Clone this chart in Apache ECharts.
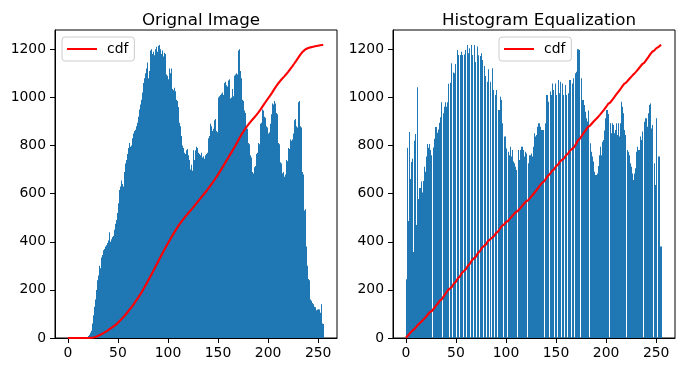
<!DOCTYPE html>
<html><head><meta charset="utf-8">
<script src="https://cdn.jsdelivr.net/npm/echarts@6/dist/echarts.min.js"></script>
<style>html,body{margin:0;padding:0;background:#fff}#c{width:685px;height:372px}</style>
</head><body><div id="c"></div>
<script>
const histOriginal = [
0,0,0,0,0,0,0,0,0,0,
0,0,0,0,0,0,0,1,2,4,
8,14,22,30,60,95,130,160,200,240,
260,300,290,335,345,365,370,380,385,395,
405,440,400,410,420,425,450,475,490,520,
560,615,630,655,640,630,690,725,740,765,
790,810,795,800,830,850,860,865,880,895,
920,950,970,990,1020,1060,1080,1100,1120,1145,
1080,1110,1195,1200,1180,1190,1175,1200,1210,1190,
1215,1218,1200,1180,1195,1170,1185,1180,1095,1090,
1075,1120,1100,1120,1035,1030,1040,1025,990,985,
960,895,880,840,800,790,770,765,780,785,
760,740,700,720,695,780,740,780,795,790,
770,765,760,770,750,755,745,760,765,770,
830,840,890,880,860,870,905,910,860,855,
1000,1005,1010,1015,1020,1010,1060,1065,1050,1045,
1070,1075,995,1000,1035,1005,1090,1095,1100,1095,
1195,1200,1110,1080,990,985,945,935,880,870,
810,805,760,750,690,684,710,715,765,770,
810,805,890,895,950,945,920,915,880,875,
850,855,890,930,975,970,985,975,935,930,
810,805,730,725,685,690,670,680,740,735,
790,785,825,820,825,850,905,910,880,875,
980,985,880,875,690,680,530,535,380,300,
245,240,160,155,145,140,130,128,115,118,
120,118,105,140,60,58];

const histEqualized = [
244,791,486,856,661,731,745,357,820,848,
470,1042,578,623,623,650,605,652,712,691,
754,806,791,806,781,760,0,792,828,877,
877,853,867,895,917,980,0,934,961,980,
961,980,1057,0,1061,1142,0,1103,1100,1139,
0,1197,1176,0,1176,1190,1176,0,1178,1197,
0,1218,1183,1204,0,1218,1176,0,1218,1147,
0,1211,1175,0,1172,1183,1155,0,1130,1089,
0,1065,1117,0,1065,0,1121,1031,0,1010,
1031,0,948,948,1003,989,892,0,837,837,
788,0,774,760,795,754,781,733,726,712,
698,0,781,740,781,795,795,781,754,774,
767,0,726,760,760,767,754,795,851,837,
844,878,892,892,878,864,864,864,0,892,
1010,1010,982,0,1024,1010,1058,1031,0,1058,
1010,0,1072,1017,1065,0,1058,1010,0,1051,
1010,0,1017,1072,1072,0,1058,1079,0,1100,
1107,1200,1200,1197,0,1079,989,989,968,940,
913,900,945,0,809,774,754,733,691,677,
677,684,715,760,795,760,816,823,862,913,
948,948,931,0,892,851,892,885,851,864,
892,844,892,837,892,982,961,934,864,844,
0,781,774,760,726,712,684,657,684,705,
774,795,781,781,837,823,858,0,899,913,
913,878,934,968,975,871,885,0,726,636,
913,0,754,754,380,380];

const xTicks = [0, 50, 100, 150, 200, 250];
const yTicks = [0, 200, 400, 600, 800, 1000, 1200];
const titles = ['Orignal Image', 'Histogram Equalization'];
const legendLabel = 'cdf';

function cdfNormalized(h) {
  const out = []; let s = 0;
  for (const v of h) { s += v; out.push(s); }
  const m = Math.max(...h);
  return out.map(v => v * m / s);
}
const FONT = 'DejaVu Sans';
const grids = [{left: 55, top: 30, width: 282, height: 308}, {left: 393, top: 30, width: 282, height: 308}];
const hists = [histOriginal, histEqualized];

const option = {
  animation: false,
  backgroundColor: '#fff',
  title: titles.map((t, k) => ({
    text: t, left: grids[k].left + grids[k].width / 2, top: 7, textAlign: 'center',
    textStyle: {fontFamily: FONT, fontSize: 16.7, fontWeight: 'normal', color: '#000'}
  })),
  legend: [
    {left: 62, top: 37},
    {left: 499, top: 37}
  ].map(p => Object.assign({
    data: [{name: legendLabel, icon: 'path://M0,0 L30,0 L30,2 L0,2 Z'}],
    orient: 'vertical', itemWidth: 30, itemHeight: 15,
    padding: [5, 6, 5, 5], borderColor: '#cccccc', borderWidth: 1, borderRadius: 3,
    backgroundColor: 'rgba(255,255,255,0.8)', selectedMode: false,
    textStyle: {fontFamily: FONT, fontSize: 13.9, color: '#000', padding: [0, 0, 0, 5]}
  }, p)),
  grid: grids.map(g => Object.assign({show: true, borderColor: '#000', borderWidth: 1, backgroundColor: 'transparent'}, g)),
  xAxis: grids.map((g, k) => ({
    type: 'value', gridIndex: k, min: -12.8, max: 268.8,
    splitLine: {show: false},
    axisLine: {show: true, onZero: false, lineStyle: {color: '#000', width: 1}},
    axisTick: {show: true, length: 5, lineStyle: {color: '#000', width: 1}, customValues: xTicks},
    axisLabel: {fontFamily: FONT, fontSize: 13.9, color: '#000', margin: 8, customValues: xTicks,
      formatter: v => String(v)}
  })),
  yAxis: grids.map((g, k) => ({
    type: 'value', gridIndex: k, min: 0, max: 1280,
    splitLine: {show: false},
    axisLine: {show: true, onZero: false, lineStyle: {color: '#000', width: 1}},
    axisTick: {show: true, length: 5, lineStyle: {color: '#000', width: 1}, customValues: yTicks},
    axisLabel: {fontFamily: FONT, fontSize: 13.9, color: '#000', margin: 9, customValues: yTicks,
      formatter: v => String(v)}
  })),
  series: []
};

hists.forEach((h, k) => {
  option.series.push({
    type: 'custom', name: 'hist' + k, xAxisIndex: k, yAxisIndex: k, clip: true,
    data: h.map((v, i) => [i, v]),
    renderItem: function (params, api) {
      const x = api.value(0), v = api.value(1);
      if (!v) return null;
      const p0 = api.coord([x, v]);
      const p1 = api.coord([x + 1, 0]);
      const x0 = Math.round(p0[0]), x1 = Math.round(p1[0]);
      return {type: 'rect', shape: {x: x0, y: p0[1], width: Math.max(1, x1 - x0), height: p1[1] - p0[1]},
        style: {fill: '#1f77b4'}};
    }
  });
  option.series.push({
    type: 'line', name: legendLabel, xAxisIndex: k, yAxisIndex: k, symbol: 'none', z: 5,
    data: cdfNormalized(h).map((v, i) => [i, v]),
    lineStyle: {color: '#ff0000', width: 2.1}, itemStyle: {color: '#ff0000'}
  });
});

const chart = echarts.init(document.getElementById('c'), null, {renderer: 'canvas'});
chart.setOption(option);
</script></body></html>
